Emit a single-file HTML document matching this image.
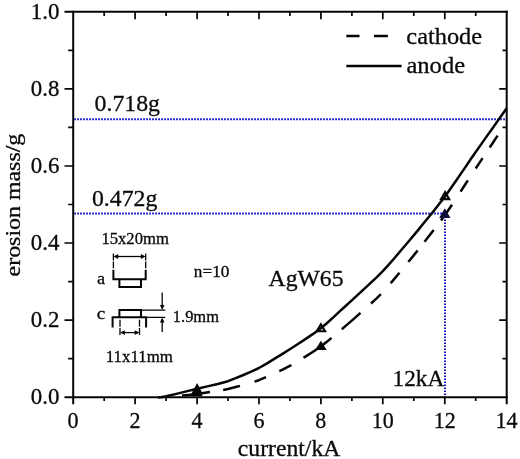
<!DOCTYPE html><html><head><meta charset="utf-8"><title>erosion mass vs current</title><style>html,body{margin:0;padding:0;background:#fff}svg{display:block}text{font-family:"Liberation Serif","Times New Roman",serif;fill:#0a0a0a;stroke:#0a0a0a;stroke-width:0.3px}</style></head><body>
<svg width="520" height="459" viewBox="0 0 520 459">
<rect width="520" height="459" fill="#fff"/>
<g stroke="#0c0cc4" stroke-width="2" stroke-dasharray="1.7 1.3" fill="none">
<path d="M74.2,119.2 H506.7"/>
<path d="M74.2,213.4 H445"/>
<path d="M445,213.4 V397.25"/>
</g>
<g stroke="#050505" stroke-width="2" fill="none" stroke-linecap="butt">
<path d="M73.2,10.75 V404.25"/>
<path d="M506.7,10.75 V404.25"/>
<path d="M64.5,11.75 H507.7"/>
<path d="M64.5,397.25 H507.7"/>
</g>
<g stroke="#050505" stroke-width="1.7" fill="none">
<path d="M104.2,397.25 v3.8 M104.2,11.75 v4.2 M135.1,397.25 v7 M135.1,11.75 v7.5 M166.1,397.25 v3.8 M166.1,11.75 v4.2 M197.1,397.25 v7 M197.1,11.75 v7.5 M228.0,397.25 v3.8 M228.0,11.75 v4.2 M259.0,397.25 v7 M259.0,11.75 v7.5 M289.9,397.25 v3.8 M289.9,11.75 v4.2 M320.9,397.25 v7 M320.9,11.75 v7.5 M351.9,397.25 v3.8 M351.9,11.75 v4.2 M382.8,397.25 v7 M382.8,11.75 v7.5 M413.8,397.25 v3.8 M413.8,11.75 v4.2 M444.8,397.25 v7 M444.8,11.75 v7.5 M475.7,397.25 v3.8 M475.7,11.75 v4.2 M73.2,358.7 h-5 M506.7,358.7 h-4.2 M73.2,320.1 h-8.7 M506.7,320.1 h-7.5 M73.2,281.6 h-5 M506.7,281.6 h-4.2 M73.2,243.0 h-8.7 M506.7,243.0 h-7.5 M73.2,204.5 h-5 M506.7,204.5 h-4.2 M73.2,166.0 h-8.7 M506.7,166.0 h-7.5 M73.2,127.4 h-5 M506.7,127.4 h-4.2 M73.2,88.8 h-8.7 M506.7,88.8 h-7.5 M73.2,50.3 h-5 M506.7,50.3 h-4.2"/>
</g>
<path d="M158.0,397.6 L160.9,397.2 L166.1,396.3 L175.4,394.1 L186.3,391.4 L197.1,388.8 L207.4,386.4 L217.7,384.0 L228.0,381.2 L235.7,378.2 L243.4,375.0 L251.2,371.6 L258.9,368.0 L266.6,363.6 L274.3,358.9 L282.1,354.1 L289.8,349.3 L297.6,344.2 L305.4,339.1 L313.1,333.9 L320.9,328.3 L327.1,323.0 L333.3,317.4 L339.4,311.7 L345.6,306.0 L351.8,300.3 L358.0,294.6 L364.2,288.9 L370.4,283.2 L376.6,277.3 L382.8,271.2 L389.0,264.3 L395.2,257.2 L401.3,250.0 L407.5,242.7 L413.7,235.4 L418.9,229.1 L424.0,222.8 L429.2,216.5 L434.4,210.1 L439.5,203.6 L444.7,196.9 L449.9,189.6 L455.0,182.2 L460.2,174.6 L465.4,167.1 L470.5,159.5 L475.7,152.0 L481.1,144.4 L486.7,136.4 L492.4,128.5 L497.7,120.9 L502.6,114.1 L506.7,108.3" stroke="#050505" stroke-width="2.5" fill="none" stroke-linejoin="round"/>
<path d="M182.0,395.6 L188.4,395.0 L197.1,394.0 L206.7,392.6 L210.0,392.1 M223.2,389.9 L228.0,389.0 L235.7,387.0 L240.0,385.9 M254.5,381.6 L258.9,380.2 L266.0,377.2 M279.3,371.1 L282.1,369.8 L289.8,365.9 L291.4,365.0 M303.5,357.8 L305.4,356.6 L313.1,351.7 L320.9,346.5 L327.1,341.6 L331.5,337.9 M341.8,329.2 L345.6,325.9 L351.8,320.6 L358.0,315.1 L360.5,312.9 M371.0,303.5 L376.6,298.3 L380.9,294.1 M390.7,283.3 L393.1,280.4 L398.2,274.3 L399.5,272.8 M408.4,261.9 L408.5,261.7 L413.7,255.4 L417.6,250.5 M424.5,241.8 L429.2,235.8 L433.7,230.0 M441.0,220.5 L444.7,215.5 L449.1,209.0 L452.0,204.7 M460.6,191.6 L462.4,188.8 L466.8,182.0 L467.9,180.4 M475.7,168.5 L481.1,160.4 L482.6,158.1 M489.7,147.5 L492.4,143.5 L497.6,135.6" stroke="#050505" stroke-width="2.5" fill="none" stroke-linejoin="round"/>
<path d="M197.1,385.2 L201.2,393.1 L192.9,393.1 Z" fill="none" stroke="#050505" stroke-width="2.1" stroke-linejoin="miter"/>
<path d="M197.1,387.6 L201.7,395.6 L192.4,395.6 Z" fill="#050505" stroke="#050505" stroke-width="1.2" stroke-linejoin="miter"/>
<path d="M320.9,324.2 L325.1,331.2 L316.7,331.2 Z" fill="none" stroke="#050505" stroke-width="2.1" stroke-linejoin="miter"/>
<path d="M320.9,341.9 L325.6,349.5 L316.2,349.5 Z" fill="#050505" stroke="#050505" stroke-width="1.2" stroke-linejoin="miter"/>
<path d="M445.1,192.1 L449.2,199.1 L441.0,199.1 Z" fill="none" stroke="#050505" stroke-width="2.1" stroke-linejoin="miter"/>
<path d="M444.8,209.4 L449.4,217.3 L440.2,217.3 Z" fill="#0b0b3a" stroke="#0b0b3a" stroke-width="1.2" stroke-linejoin="miter"/>
<g stroke="#050505" stroke-width="2.5" fill="none"><path d="M346.3,36.1 h13.2 M374,36.1 h13.9"/><path d="M346.3,66.1 H401.6"/></g>
<text transform="translate(406.32,43.8) scale(1.016,1)" font-size="24">cathode</text>
<text transform="translate(406.44,72.5) scale(1.024,1)" font-size="24">anode</text>
<text transform="translate(94.55,110.7) scale(0.991,1)" font-size="24">0.718g</text>
<text transform="translate(91.95,206) scale(0.991,1)" font-size="24">0.472g</text>
<text transform="translate(268.56,286.1) scale(0.987,1)" font-size="24">AgW65</text>
<text transform="translate(392.62,385.7) scale(0.968,1)" font-size="24">12kA</text>
<text transform="translate(101.38,244.1) scale(1.042,1)" font-size="16">15x20mm</text>
<text transform="translate(105.77,361.9) scale(1.054,1)" font-size="16">11x11mm</text>
<text transform="translate(193.86,277.3) scale(1.075,1)" font-size="16">n=10</text>
<text transform="translate(172.80,321.9) scale(1.029,1)" font-size="16">1.9mm</text>
<text transform="translate(96.96,284.2) scale(1.072,1)" font-size="17">a</text>
<text transform="translate(96.83,318.5) scale(1.129,1)" font-size="17">c</text>
<text transform="translate(73.1,428.2) scale(0.92,1)" font-size="24" text-anchor="middle">0</text>
<text transform="translate(135.0,428.2) scale(0.92,1)" font-size="24" text-anchor="middle">2</text>
<text transform="translate(197.0,428.2) scale(0.92,1)" font-size="24" text-anchor="middle">4</text>
<text transform="translate(258.9,428.2) scale(0.92,1)" font-size="24" text-anchor="middle">6</text>
<text transform="translate(320.8,428.2) scale(0.92,1)" font-size="24" text-anchor="middle">8</text>
<text transform="translate(382.7,428.2) scale(0.92,1)" font-size="24" text-anchor="middle">10</text>
<text transform="translate(444.7,428.2) scale(0.92,1)" font-size="24" text-anchor="middle">12</text>
<text transform="translate(506.6,428.2) scale(0.92,1)" font-size="24" text-anchor="middle">14</text>
<text transform="translate(59.4,404.4) scale(0.97,1)" font-size="23.6" text-anchor="end">0.0</text>
<text transform="translate(59.4,327.3) scale(0.97,1)" font-size="23.6" text-anchor="end">0.2</text>
<text transform="translate(59.4,250.2) scale(0.97,1)" font-size="23.6" text-anchor="end">0.4</text>
<text transform="translate(59.4,173.2) scale(0.97,1)" font-size="23.6" text-anchor="end">0.6</text>
<text transform="translate(59.4,96.0) scale(0.97,1)" font-size="23.6" text-anchor="end">0.8</text>
<text transform="translate(59.4,18.9) scale(0.97,1)" font-size="23.6" text-anchor="end">1.0</text>
<text transform="translate(237.85,455.6) scale(0.986,1)" font-size="24">current/kA</text>
<text transform="translate(19.9,276.41) rotate(-90) scale(1.161,1)" font-size="20.6">erosion mass/g</text>
<g stroke="#050505" fill="none">
<g stroke-width="2"><path d="M113.4,269.8 V279.2 H145.7 V269.8"/><path d="M119.4,279.2 V287.1 H141 V279.2"/>
<path d="M119.4,317.3 V310.1 H141 V317.3"/><path d="M112.6,327.5 V317.3 H146.1 V327.5"/></g>
<g stroke-width="1.3"><path d="M113.4,253.4 V268.2 M145.7,253.4 V268.2" stroke-dasharray="7 1.2"/><path d="M115,256.5 H144"/>
<path d="M120,319.8 V335 M139.5,319.8 V335" stroke-dasharray="7 1.2"/><path d="M121.5,332.6 H138"/>
<path d="M142,310.1 H165.3 M147,317.3 H165.3"/><path d="M162.2,292.5 V308 M162.2,319.5 V332"/></g>
</g>
<g fill="#050505" stroke="none"><path d="M113.6,256.5 l4.6,-2.4 v4.8z M145.5,256.5 l-4.6,-2.4 v4.8z"/><path d="M120.2,332.6 l4.6,-2.4 v4.8z M139.3,332.6 l-4.6,-2.4 v4.8z"/><path d="M162.2,310 l-2.3,-5 h4.6z M162.2,317.4 l-2.3,5 h4.6z"/></g>
</svg></body></html>
